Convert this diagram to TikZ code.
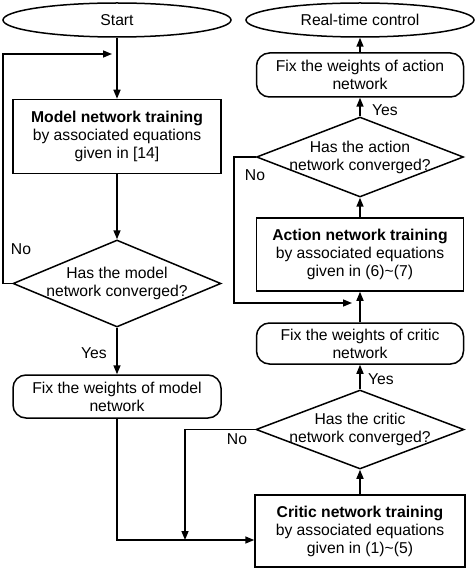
\documentclass[tikz,border=0pt]{standalone}
\usepackage{fontspec}
\setmainfont{Liberation Sans}
\usetikzlibrary{shapes.geometric,arrows.meta}
\begin{document}
\begin{tikzpicture}[x=1pt,y=-1pt,
 every node/.style={font=\fontsize{15.7}{18}\selectfont},
 base/.style={draw, line width=1.5pt, inner sep=0pt, align=center},
 procbox/.style={base, rectangle, minimum width=208pt, minimum height=73pt},
 roundbox/.style={base, rectangle, rounded corners=13pt, minimum width=208pt, minimum height=43pt},
 term/.style={base, ellipse, minimum width=228pt, minimum height=34pt},
 decision/.style={base, diamond, minimum width=208pt, minimum height=82pt},
 conn/.style={line width=1.5pt, -{Triangle[length=9pt,width=7pt]}},
 txt/.style={inner sep=0pt}
]
\useasboundingbox (0,0) rectangle (474,569);

% left column
\node[term] (start) at (117,20) {Start};
\node[procbox, minimum height=74pt] (model) at (117,136.5) {\textbf{Model network training}\\by associated equations\\given in [14]};
\node[decision, minimum height=87pt, label={[align=center, inner sep=0pt]center:Has the model\\network converged?}] (mdec) at (117,283.5) {};
\node[roundbox] (mfix) at (117,396.5) {Fix the weights of model\\network};

% right column
\node[procbox, minimum width=210pt, minimum height=72pt] (critic) at (360,531) {\textbf{Critic network training}\\by associated equations\\given in (1)\textasciitilde(5)};
\node[decision, minimum height=79pt, label={[align=center, inner sep=0pt]center:Has the critic\\network converged?}] (cdec) at (360,429.5) {};
\node[roundbox, minimum width=207pt, minimum height=41pt] (cfix) at (360,343.5) {Fix the weights of critic\\network};
\node[procbox, minimum width=207pt, minimum height=73pt] (action) at (360,254.5) {\textbf{Action network training}\\by associated equations\\given in (6)\textasciitilde(7)};
\node[decision, minimum width=207pt, minimum height=80pt, label={[align=center, inner sep=0pt]center:Has the action\\network converged?}] (adec) at (360,157) {};
\node[roundbox, minimum width=207pt, minimum height=44pt] (afix) at (360,75) {Fix the weights of action\\network};
\node[term, minimum width=228pt] (rt) at (360,20) {Real-time control};

% labels
\node[txt] (no1) at (21,249) {No};
\node[txt] (yes1) at (94,353) {Yes};
\node[txt] (no2) at (237,439) {No};
\node[txt] (yes2) at (381,379) {Yes};
\node[txt] (no3) at (255,175) {No};
\node[txt] (yes3) at (385,110) {Yes};

% coordinates
\coordinate (lpA) at (3,283.5);
\coordinate (lpB) at (3,54);
\coordinate (lpC) at (112,54);
\coordinate (mc) at (117,540);
\coordinate (cn) at (185,429.5);
\coordinate (cm) at (185,540);
\coordinate (an) at (234,157);
\coordinate (am) at (234,303);
\coordinate (ae) at (352,303);

% connectors
\draw[conn] (start) -- (model);
\draw[conn] (model) -- (mdec);
\draw[conn] (mdec.west) -- (lpA) -- (lpB) -- (lpC);
\draw[conn] (mdec) -- (mfix);
\draw[conn] (mfix.south) -- (mc) -- (critic.west |- mc);
\draw[conn] (cdec.west) -- (cn) -- (cm);
\draw[conn] (critic) -- (cdec);
\draw[conn] (cdec) -- (cfix);
\draw[conn] (cfix) -- (action);
\draw[conn] (adec.west) -- (an) -- (am) -- (ae);
\draw[conn] (action) -- (adec);
\draw[conn] (adec) -- (afix);
\draw[conn] (afix) -- (rt);
\end{tikzpicture}
\end{document}
